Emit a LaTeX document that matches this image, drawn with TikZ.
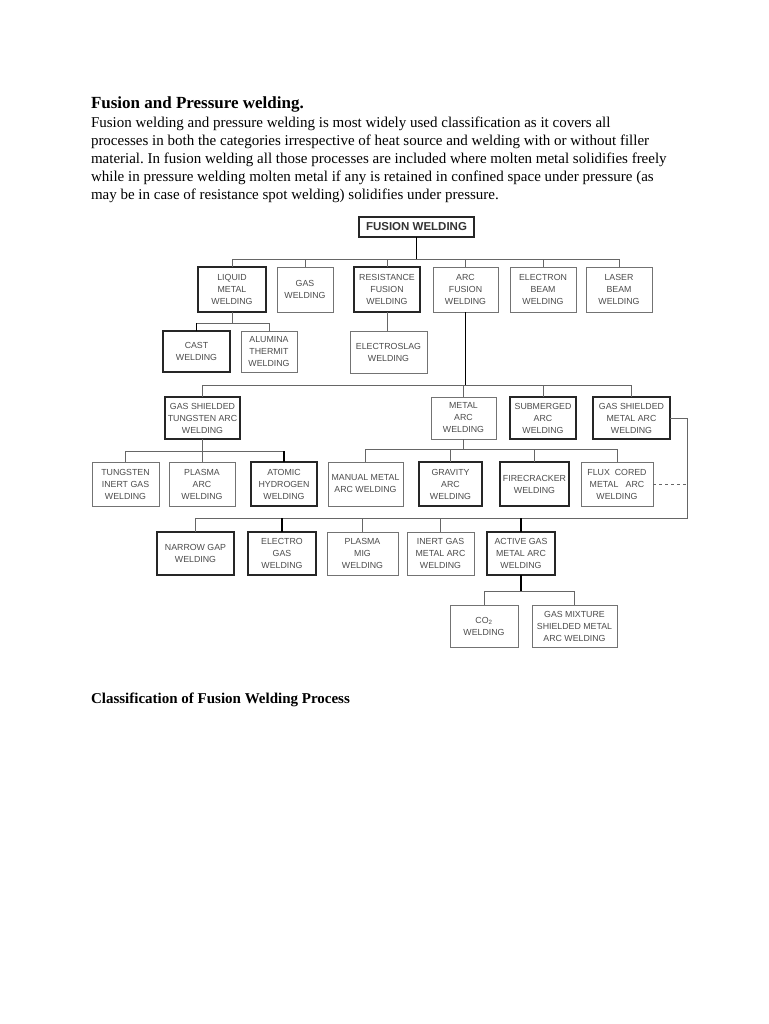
\documentclass[tikz,border=0pt]{standalone}
\usepackage{fontspec}
\setmainfont{Liberation Serif}
\newfontfamily\boxfont{Liberation Sans}
\frenchspacing
\begin{document}
\begin{tikzpicture}[x=1pt,y=-1pt,
  every node/.style={inner sep=0pt, outer sep=0pt},
  bx/.style={draw=black!55, line width=0.7pt, align=center, font=\boxfont\fontsize{8.8}{12}\selectfont, text=black!70},
  bxd/.style={bx, draw=black!85, line width=1.1pt},
  ln/.style={draw=black!60, line width=0.7pt},
  lnk/.style={draw=black, line width=1.4pt},
  para/.style={anchor=base west, font=\fontsize{15}{18}\selectfont}
]
\useasboundingbox[fill=white] (0,0) rectangle (768,1024);

% text
\node[para, font=\bfseries\fontsize{17}{18}\selectfont] (title) at (91,109) {Fusion and Pressure welding.};
\node[para] (p1) at (91,127.5) {Fusion welding and pressure welding is most widely used classification as it covers all};
\node[para] (p2) at (91,145.5) {processes in both the categories irrespective of heat source and welding with or without filler};
\node[para] (p3) at (91,163.5) {material. In fusion welding all those processes are included where molten metal solidifies freely};
\node[para] (p4) at (91,181.5) {while in pressure welding molten metal if any is retained in confined space under pressure (as};
\node[para] (p5) at (91,199.5) {may be in case of resistance spot welding) solidifies under pressure.};
\node[para, font=\bfseries\fontsize{15}{18}\selectfont] (cap) at (91,703) {Classification of Fusion Welding Process};

% boxes
\node[bxd, minimum width=115pt, minimum height=20pt, font=\boxfont\bfseries\fontsize{11.5}{12}\selectfont, text=black!80] (fw) at (416.5,227) {FUSION WELDING};

\node[bxd, minimum width=68pt, minimum height=45pt] (lmw) at (232,289.5) {LIQUID\\METAL\\WELDING};
\node[bx, minimum width=56pt, minimum height=45pt] (gw) at (305,289.5) {GAS\\WELDING};
\node[bxd, minimum width=66pt, minimum height=45pt] (rfw) at (387,289.5) {RESISTANCE\\FUSION\\WELDING};
\node[bx, minimum width=65pt, minimum height=45pt] (afw) at (465.5,289.5) {ARC\\FUSION\\WELDING};
\node[bx, minimum width=66pt, minimum height=45pt] (ebw) at (543,289.5) {ELECTRON\\BEAM\\WELDING};
\node[bx, minimum width=66pt, minimum height=45pt] (lbw) at (619,289.5) {LASER\\BEAM\\WELDING};

\node[bxd, minimum width=67pt, minimum height=41pt] (cast) at (196.5,351.5) {CAST\\WELDING};
\node[bx, minimum width=56pt, minimum height=41pt] (atw) at (269,351.5) {ALUMINA\\THERMIT\\WELDING};
\node[bx, minimum width=77pt, minimum height=42pt] (esw) at (388.5,352) {ELECTROSLAG\\WELDING};

\node[bxd, minimum width=75pt, minimum height=42pt] (gtaw) at (202.5,418) {GAS SHIELDED\\TUNGSTEN ARC\\WELDING};
\node[bx, minimum width=65pt, minimum height=42pt] (maw) at (463.5,418) {METAL\\ARC\\WELDING};
\node[bxd, minimum width=66pt, minimum height=42pt] (saw) at (543,418) {SUBMERGED\\ARC\\WELDING};
\node[bxd, minimum width=77pt, minimum height=42pt] (gsmaw) at (631.5,418) {GAS SHIELDED\\METAL ARC\\WELDING};

\node[bx, minimum width=67pt, minimum height=44pt] (tig) at (125.5,484) {TUNGSTEN\\INERT GAS\\WELDING};
\node[bx, minimum width=66pt, minimum height=44pt] (paw) at (202,484) {PLASMA\\ARC\\WELDING};
\node[bxd, minimum width=66pt, minimum height=44pt] (ahw) at (284,484) {ATOMIC\\HYDROGEN\\WELDING};
\node[bx, minimum width=75pt, minimum height=44pt] (mmaw) at (365.5,484) {MANUAL METAL\\ARC WELDING};
\node[bxd, minimum width=63pt, minimum height=44pt] (grav) at (450.5,484) {GRAVITY\\ARC\\WELDING};
\node[bxd, minimum width=69pt, minimum height=44pt] (fire) at (534.5,484) {FIRECRACKER\\WELDING};
\node[bx, minimum width=72pt, minimum height=44pt] (fcaw) at (617,484) {FLUX\ \ CORED\\METAL\ \ \ ARC\\WELDING};

\node[bxd, minimum width=77pt, minimum height=43pt] (ngw) at (195.5,553.5) {NARROW GAP\\WELDING};
\node[bxd, minimum width=68pt, minimum height=43pt] (egw) at (282,553.5) {ELECTRO\\GAS\\WELDING};
\node[bx, minimum width=71pt, minimum height=43pt] (pmig) at (362.5,553.5) {PLASMA\\MIG\\WELDING};
\node[bx, minimum width=67pt, minimum height=43pt] (igmaw) at (440.5,553.5) {INERT GAS\\METAL ARC\\WELDING};
\node[bxd, minimum width=68pt, minimum height=43pt] (agmaw) at (521,553.5) {ACTIVE GAS\\METAL ARC\\WELDING};

\node[bx, minimum width=68pt, minimum height=42pt] (co2) at (484,626) {CO\textsubscript{2}\\WELDING};
\node[bx, minimum width=85pt, minimum height=42pt] (gmix) at (574.5,626) {GAS MIXTURE\\SHIELDED METAL\\ARC WELDING};

% connectors
\foreach \c in {lmw,gw,rfw,afw,ebw,lbw}
  \draw[ln] (fw.south) -- ++(0,22) -| (\c.north);
\draw[lnk] (fw.south) -- ++(0,22);

\foreach \c in {cast,atw}
  \draw[ln] (lmw.south) -- ++(0,11) -| (\c.north);
\draw[lnk] (cast.north) -- ++(0,-8);
\draw[ln] (rfw.south) -- (rfw.south |- esw.north);

\foreach \c in {gtaw,maw,saw,gsmaw}
  \draw[ln] (afw.south) -- ++(0,73) -| (\c.north);
\draw[lnk] (afw.south) -- ++(0,73);

\foreach \c in {tig,paw,ahw}
  \draw[ln] (gtaw.south) -- ++(0,12) -| (\c.north);
\draw[lnk] (ahw.north) -- ++(0,-11);

\foreach \c in {mmaw,grav,fire,fcaw}
  \draw[ln] (maw.south) -- ++(0,10) -| (\c.north);

\coordinate (r4) at (687,518);
\foreach \c in {ngw,egw,pmig,igmaw,agmaw}
  \draw[ln] (gsmaw.east) -| (r4) -| (\c.north);
\draw[lnk] (egw.north) -- ++(0,-14);
\draw[lnk] (agmaw.north) -- ++(0,-14);
\draw[ln, dashed] (fcaw.east) -- (fcaw.east -| r4);

\foreach \c in {co2,gmix}
  \draw[ln] (agmaw.south) -- ++(0,16) -| (\c.north);
\draw[lnk] (agmaw.south) -- ++(0,16);
\end{tikzpicture}
\end{document}
